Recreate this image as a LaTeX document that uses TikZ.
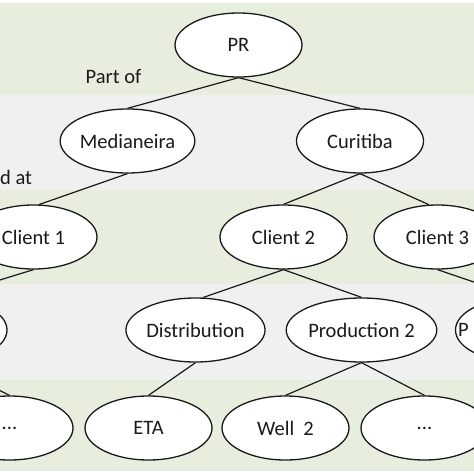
\documentclass[tikz,border=0pt]{standalone}
\usepackage{fontspec}
\setmainfont{Carlito}
\usetikzlibrary{shapes.geometric}
\definecolor{bandgreen}{HTML}{E8EEDD}
\definecolor{bandgray}{HTML}{F0F0F0}
\definecolor{ink}{HTML}{1A1A1A}
\tikzset{
  ell/.style={ellipse, draw=ink, line width=1.3pt, fill=white, minimum width=127pt, minimum height=64pt, inner sep=0pt, font=\fontsize{20.5}{24}\selectfont, text=ink},
  lbl/.style={font=\fontsize{20.5}{24}\selectfont, text=ink, inner sep=0pt},
  conn/.style={draw=ink, line width=1.2pt}
}
\begin{document}
\begin{tikzpicture}[x=1pt,y=-1pt]
\useasboundingbox (0,0) rectangle (474,474);
\clip (0,0) rectangle (474,474);
\fill[white] (0,0) rectangle (474,474);
\fill[bandgreen] (0,3) rectangle (474,95);
\fill[bandgray] (0,95) rectangle (474,190);
\fill[bandgreen] (0,190) rectangle (474,284);
\fill[bandgray] (0,284) rectangle (474,380);
\fill[bandgreen] (0,380) rectangle (474,471);

\node[lbl] (partof) at (113.5,77) {Part of};
\node[lbl, anchor=west] (locat) at (0,177) {d at};

\node[ell] (pr) at (238.5,45) {PR};
\node[ell] (med) at (127.5,141) {Medianeira};
\node[ell] (cur) at (360,141) {Curitiba};
\node[ell] (c1) at (33.5,237) {Client 1};
\node[ell] (c2) at (283.5,237) {Client 2};
\node[ell] (c3) at (437.5,237) {Client 3};
\node[ell] (lp) at (-56.5,330) {};
\node[ell] (dist) at (195.5,330) {Distribution};
\node[ell] (prod2) at (361.5,330) {Production 2};
\node[ell] (rp) at (519,330) {};
\node[lbl, anchor=west] (rpt) at (458,330) {P};
\node[ell] (dl) at (9.5,428) {...};
\node[ell] (eta) at (148.5,428) {ETA};
\node[ell] (w2) at (285.5,428) {Well\ \ 2};
\node[ell] (dr) at (424.5,428) {...};

\draw[conn] (pr.south) -- (med.north);
\draw[conn] (pr.south) -- (cur.north);
\draw[conn] (med.south) -- (c1.80);
\draw[conn] (cur.south) -- (c2.north);
\draw[conn] (cur.south) -- (c3.105);
\draw[conn] (c1.south) -- (lp.north);
\draw[conn] (lp.south) -- (dl.north);
\draw[conn] (c2.south) -- (dist.77);
\draw[conn] (c2.south) -- (prod2.north);
\draw[conn] (c3.south) -- (rp.north);
\draw[conn] (dist.south) -- (eta.north);
\draw[conn] (prod2.south) -- (w2.north);
\draw[conn] (prod2.south) -- (dr.north);
\end{tikzpicture}
\end{document}
